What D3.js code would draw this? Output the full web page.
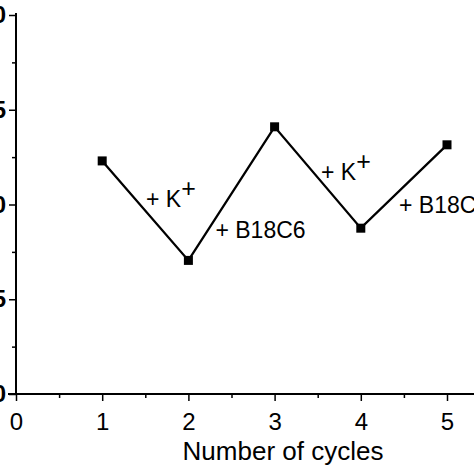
<!DOCTYPE html>
<html>
<head>
<meta charset="utf-8">
<script src="https://cdn.jsdelivr.net/npm/d3@7"></script>
<style>
  html, body { margin: 0; padding: 0; background: #fff; }
  svg { display: block; font-family: Arial, "Liberation Sans", sans-serif; }
</style>
</head>
<body>
<div id="chart"></div>
<script>
// data
const cycles = [1, 2, 3, 4, 5];
const values = [12.3, 7.05, 14.1, 8.75, 13.15];
const yTickValues = [0, 5, 10, 15, 20];
const yTickLabels = ["0", "5", "10", "15", "20"];
const xTickValues = [0, 1, 2, 3, 4, 5];
const notes = [
    {x: 1.508, y: 9.87, text: "+ K", sup: "+"},
    {x: 2.314, y: 8.23, text: "+ B18C6", sup: ""},
    {x: 3.538, y: 11.27, text: "+ K", sup: "+"},
    {x: 4.443, y: 9.54, text: "+ B18C6", sup: ""}
];

const width = 474, height = 474;

const svg = d3.select("#chart").append("svg")
    .attr("width", width)
    .attr("height", height);

const x = d3.scaleLinear().domain([0, 5.5]).range([16, 16 + 5.5 * 86.2]);
const y = d3.scaleLinear().domain([0, 20]).range([394, 15]);

// minor ticks
svg.append("g")
    .attr("transform", "translate(0," + y(0) + ")")
    .call(d3.axisBottom(x).tickValues(d3.range(0.5, 5.5, 1)).tickSize(4).tickFormat(""))
    .call(g => g.select(".domain").remove())
    .selectAll("line").attr("stroke-width", 1.5);

svg.append("g")
    .attr("transform", "translate(" + x(0) + ",0)")
    .call(d3.axisLeft(y).tickValues(d3.range(2.5, 20, 5)).tickSize(4).tickFormat(""))
    .call(g => g.select(".domain").remove())
    .selectAll("line").attr("stroke-width", 1.5);

// x axis
const xAxis = svg.append("g")
    .attr("transform", "translate(0," + y(0) + ")")
    .call(d3.axisBottom(x).tickValues(xTickValues).tickSize(7).tickSizeOuter(0).tickPadding(12)
        .tickFormat(d3.format("d")));
xAxis.select(".domain").attr("stroke-width", 2).attr("d", "M" + (x(0) - 8) + ",0H" + width);
xAxis.selectAll("line").attr("stroke-width", 1.5);
xAxis.selectAll("text").attr("font-size", 24).attr("fill", "#000");

// y axis (labels mostly outside the frame, as in the original crop)
const yAxis = svg.append("g")
    .attr("transform", "translate(" + x(0) + ",0)")
    .call(d3.axisLeft(y).tickValues(yTickValues).tickSize(7).tickSizeOuter(0).tickPadding(3)
        .tickFormat((d, i) => yTickLabels[i]));
yAxis.select(".domain").attr("stroke-width", 2).attr("d", "M0," + y(0) + "V" + (y(20) - 2));
yAxis.selectAll("line").attr("stroke-width", 1.5);
yAxis.selectAll("text").attr("font-size", 24).attr("font-weight", "bold").attr("fill", "#000");

// axis title
svg.append("text")
    .attr("x", 283)
    .attr("y", 460)
    .attr("text-anchor", "middle")
    .attr("font-size", 26)
    .attr("fill", "#000")
    .text("Number of cycles");

// line + markers
const line = d3.line().x((d, i) => x(cycles[i])).y(d => y(d));
svg.append("path")
    .datum(values)
    .attr("d", line)
    .attr("fill", "none")
    .attr("stroke", "#000")
    .attr("stroke-width", 2.3);

svg.selectAll(".pt")
    .data(values)
    .enter()
    .append("rect")
    .attr("class", "pt")
    .attr("x", (d, i) => x(cycles[i]) - 4.5)
    .attr("y", d => y(d) - 4.5)
    .attr("width", 9)
    .attr("height", 9)
    .attr("fill", "#000");

// annotations
const lab = svg.selectAll(".note")
    .data(notes)
    .enter()
    .append("text")
    .attr("class", "note")
    .attr("x", d => x(d.x))
    .attr("y", d => y(d.y))
    .attr("font-size", 23)
    .attr("fill", "#000");
lab.append("tspan").text(d => d.text);
lab.filter(d => d.sup).append("tspan")
    .attr("dx", 0)
    .attr("dy", -10)
    .attr("font-size", 25)
    .text(d => d.sup);
</script>
</body>
</html>
